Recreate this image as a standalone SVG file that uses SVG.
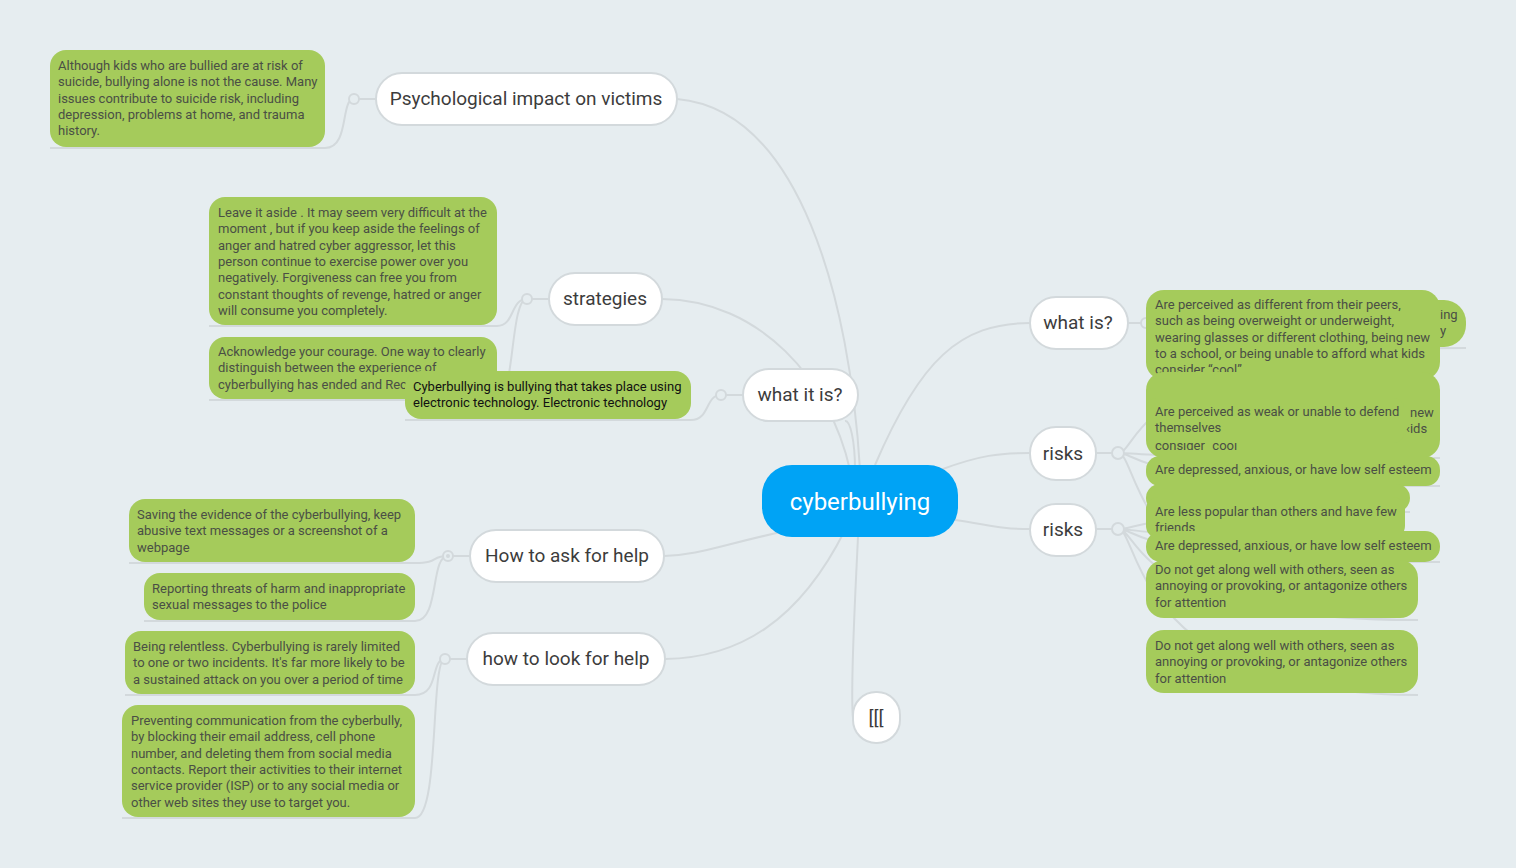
<svg xmlns="http://www.w3.org/2000/svg" width="1516" height="868" viewBox="0 0 1516 868">
<style>
.n{fill:#fff;stroke:#d3d9dc;stroke-width:2}
.g{fill:#a5cb5b}
.t{font-family:Roboto,"Liberation Sans",sans-serif;font-size:13px;fill:#4a4f45}
.tk{font-family:Roboto,"Liberation Sans",sans-serif;font-size:13px;fill:#111}
.m{font-family:Roboto,"Liberation Sans",sans-serif;font-size:19px;fill:#3c3c3c}
.c{fill:none;stroke:#d3d9dc;stroke-width:2}
.j{fill:#e6edf0;stroke:#d3d9dc;stroke-width:2}
</style>
<rect width="1516" height="868" fill="#e6edf0"/>
<g id="connectors">
<path class="c" d="M860 470 C850 300 800 110 677 99"/>
<path class="c" d="M850 470 C830 380 760 300 662 299"/>
<path class="c" d="M855 470 C855 440 850 420 845 421"/>
<path class="c" d="M790 530 C720 545 700 555 664 556"/>
<path class="c" d="M845 530 C800 620 740 658 665 659"/>
<path class="c" d="M858 537 C855 600 850 690 853 718"/>
<path class="c" d="M875 465 C920 360 960 323 1030 323"/>
<path class="c" d="M940 470 C980 455 1000 453 1030 453"/>
<path class="c" d="M955 520 C990 525 1000 529 1030 529"/>
<path class="c" d="M376 99 L354 99 C340 99 350 148 325 148 L50 148"/>
<path class="c" d="M549 299 L527 299 C510 299 515 326 497 326 L209 326"/>
<path class="c" d="M527 299 C510 299 515 400 497 400 L209 400"/>
<path class="c" d="M743 395 L721 395 C705 395 710 420 691 420 L405 420"/>
<path class="c" d="M470 556 L448 556 C430 556 440 563 415 563 L129 563"/>
<path class="c" d="M448 556 C430 556 440 621 415 621 L144 621"/>
<path class="c" d="M467 659 L445 659 C430 659 440 695 415 695 L125 695"/>
<path class="c" d="M445 659 C430 659 440 818 415 818 L122 818"/>
<path class="c" d="M1128 323 L1146 323"/>
<path class="c" d="M1096 453 L1118 453 C1140 453 1130 348 1466 348"/>
<path class="c" d="M1118 453 C1140 453 1130 458 1440 458 M1118 453 C1140 453 1130 486 1440 486 M1118 453 C1140 453 1130 620 1418 620"/>
<path class="c" d="M1096 529 L1118 529 C1140 529 1130 512 1410 512 M1118 529 C1140 529 1130 538 1405 538 M1118 529 C1140 529 1130 562 1440 562 M1118 529 C1140 529 1130 695 1418 695 M1118 529 C1140 529 1130 620 1418 620"/>
</g>
<g id="center"><rect x="762" y="465" width="196" height="72" rx="30" fill="#00a3f5"/><text x="860" y="510" text-anchor="middle" font-family="Roboto,'Liberation Sans',sans-serif" font-size="24" fill="#fff">cyberbullying</text></g>
<g id="psych"><rect class="n" x="376" y="73" width="301" height="52" rx="26"/><text class="m" x="526" y="105" text-anchor="middle">Psychological impact on victims</text><circle class="j" cx="354" cy="99" r="5"/></g>
<g id="psych-note"><rect class="g" x="50" y="50" width="275" height="97" rx="16"/><text class="t" x="58" y="70">Although kids who are bullied are at risk of<tspan x="58" dy="16.3">suicide, bullying alone is not the cause. Many</tspan><tspan x="58" dy="16.3">issues contribute to suicide risk, including</tspan><tspan x="58" dy="16.3">depression, problems at home, and trauma</tspan><tspan x="58" dy="16.3">history.</tspan></text></g>
<g id="strategies"><rect class="n" x="549" y="273" width="113" height="52" rx="26"/><text class="m" x="605" y="305" text-anchor="middle">strategies</text><circle class="j" cx="527" cy="299" r="5"/></g>
<g id="strat-note1"><rect class="g" x="209" y="197" width="288" height="128" rx="16"/><text class="t" x="218" y="217">Leave it aside . It may seem very difficult at the<tspan x="218" dy="16.3">moment , but if you keep aside the feelings of</tspan><tspan x="218" dy="16.3">anger and hatred cyber aggressor, let this</tspan><tspan x="218" dy="16.3">person continue to exercise power over you</tspan><tspan x="218" dy="16.3">negatively. Forgiveness can free you from</tspan><tspan x="218" dy="16.3">constant thoughts of revenge, hatred or anger</tspan><tspan x="218" dy="16.3">will consume you completely.</tspan></text></g>
<g id="strat-note2"><rect class="g" x="209" y="337" width="288" height="62" rx="16"/><text class="t" x="218" y="356">Acknowledge your courage. One way to clearly<tspan x="218" dy="16.3">distinguish between the experience of</tspan><tspan x="218" dy="16.3">cyberbullying has ended and Rec</tspan></text></g>
<g id="whatitis"><rect class="n" x="743" y="369" width="115" height="52" rx="26"/><text class="m" x="800" y="401" text-anchor="middle">what it is?</text><circle class="j" cx="721" cy="395" r="5"/></g>
<g id="whatitis-note"><rect class="g" x="405" y="371" width="286" height="48" rx="16"/><text class="tk" x="413" y="391">Cyberbullying is bullying that takes place using<tspan x="413" dy="16.3">electronic technology. Electronic technology</tspan></text></g>
<g id="ask"><rect class="n" x="470" y="530" width="194" height="52" rx="26"/><text class="m" x="567" y="562" text-anchor="middle">How to ask for help</text><circle class="j" cx="448" cy="556" r="5"/><circle cx="448" cy="556" r="2" fill="#d3d9dc"/></g>
<g id="ask-note1"><rect class="g" x="129" y="499" width="286" height="63" rx="16"/><text class="t" x="137" y="519">Saving the evidence of the cyberbullying, keep<tspan x="137" dy="16.3">abusive text messages or a screenshot of a</tspan><tspan x="137" dy="16.3">webpage</tspan></text></g>
<g id="ask-note2"><rect class="g" x="144" y="573" width="271" height="47" rx="16"/><text class="t" x="152" y="593">Reporting threats of harm and inappropriate<tspan x="152" dy="16.3">sexual messages to the police</tspan></text></g>
<g id="look"><rect class="n" x="467" y="633" width="198" height="52" rx="26"/><text class="m" x="566" y="665" text-anchor="middle">how to look for help</text><circle class="j" cx="445" cy="659" r="5"/></g>
<g id="look-note1"><rect class="g" x="125" y="631" width="290" height="63" rx="16"/><text class="t" x="133" y="651">Being relentless. Cyberbullying is rarely limited<tspan x="133" dy="16.3">to one or two incidents. It's far more likely to be</tspan><tspan x="133" dy="16.3">a sustained attack on you over a period of time</tspan></text></g>
<g id="look-note2"><rect class="g" x="122" y="705" width="293" height="112" rx="16"/><text class="t" x="131" y="725">Preventing communication from the cyberbully,<tspan x="131" dy="16.3">by blocking their email address, cell phone</tspan><tspan x="131" dy="16.3">number, and deleting them from social media</tspan><tspan x="131" dy="16.3">contacts. Report their activities to their internet</tspan><tspan x="131" dy="16.3">service provider (ISP) or to any social media or</tspan><tspan x="131" dy="16.3">other web sites they use to target you.</tspan></text></g>
<g id="brackets"><rect class="n" x="853" y="692" width="47" height="51" rx="23"/><text class="m" x="876" y="724" text-anchor="middle">[[[</text></g>
<g id="whatis"><rect class="n" x="1030" y="297" width="98" height="52" rx="26"/><text class="m" x="1078" y="329" text-anchor="middle">what is?</text><circle class="j" cx="1146" cy="323" r="5"/></g>
<g id="risks1"><rect class="n" x="1030" y="427" width="66" height="53" rx="26"/><text class="m" x="1063" y="460" text-anchor="middle">risks</text><circle class="j" cx="1118" cy="453" r="6"/></g>
<g id="risks2"><rect class="n" x="1030" y="504" width="66" height="52" rx="26"/><text class="m" x="1063" y="536" text-anchor="middle">risks</text><circle class="j" cx="1118" cy="529" r="6"/></g>
<g id="r-back"><rect class="g" x="1146" y="300" width="320" height="47" rx="22"/><text class="t" x="1440" y="319">ing<tspan x="1440" dy="16.3">y</tspan></text></g>
<g id="r-a"><rect class="g" x="1146" y="290" width="294" height="90" rx="18"/><text class="t" x="1155" y="309">Are perceived as different from their peers,<tspan x="1155" dy="16.3">such as being overweight or underweight,</tspan><tspan x="1155" dy="16.3">wearing glasses or different clothing, being new</tspan><tspan x="1155" dy="16.3">to a school, or being unable to afford what kids</tspan><tspan x="1155" dy="16.3">consider “cool”</tspan></text></g>
<g id="r-b"><rect class="g" x="1146" y="372" width="294" height="86" rx="18"/><text class="t" x="1410" y="417">new<tspan x="1406" dy="16.3">‹ids</tspan></text><text class="t" x="1155" y="450">consider “cool”</text></g>
<g id="r-c"><rect class="g" x="1146" y="398" width="258" height="45" rx="10"/><text class="t" x="1155" y="416">Are perceived as weak or unable to defend<tspan x="1155" dy="16.3">themselves</tspan></text></g>
<g id="r-d"><rect class="g" x="1146" y="456" width="294" height="30" rx="14"/><text class="t" x="1155" y="474">Are depressed, anxious, or have low self esteem</text></g>
<g id="r-e"><rect class="g" x="1146" y="484" width="264" height="28" rx="14"/></g>
<g id="r-f"><rect class="g" x="1146" y="497" width="259" height="41" rx="12"/><text class="t" x="1155" y="516">Are less popular than others and have few<tspan x="1155" dy="16.3">friends</tspan></text></g>
<g id="r-g"><rect class="g" x="1146" y="531" width="294" height="31" rx="15"/><text class="t" x="1155" y="550">Are depressed, anxious, or have low self esteem</text></g>
<g id="r-h"><rect class="g" x="1146" y="560" width="272" height="58" rx="18"/><text class="t" x="1155" y="574">Do not get along well with others, seen as<tspan x="1155" dy="16.3">annoying or provoking, or antagonize others</tspan><tspan x="1155" dy="16.3">for attention</tspan></text></g>
<g id="r-i"><rect class="g" x="1146" y="630" width="272" height="63" rx="18"/><text class="t" x="1155" y="650">Do not get along well with others, seen as<tspan x="1155" dy="16.3">annoying or provoking, or antagonize others</tspan><tspan x="1155" dy="16.3">for attention</tspan></text></g>
</svg>
